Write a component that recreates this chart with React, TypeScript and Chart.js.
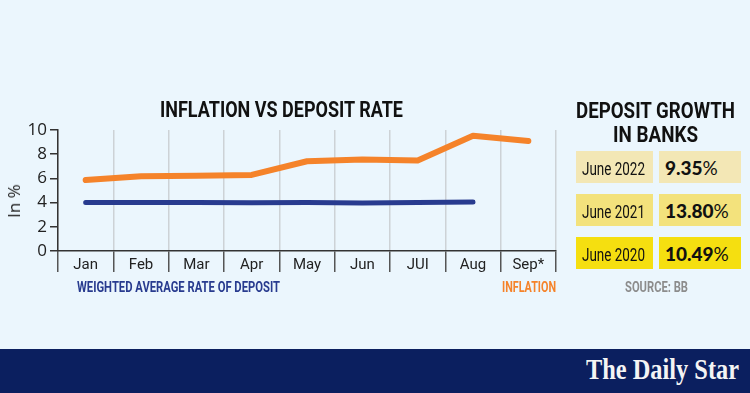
import React, { useEffect, useLayoutEffect, useRef } from "react";
import { Chart, registerables } from "chart.js";

Chart.register(...registerables);

const months = ["Jan", "Feb", "Mar", "Apr", "May", "Jun", "JUI", "Aug", "Sep*"];
const inflation = [5.86, 6.17, 6.22, 6.29, 7.42, 7.56, 7.48, 9.52, 9.1];
const depositRate = [4.01, 4.01, 4.01, 3.99, 4.0, 3.96, 4.0, 4.04];
const yTicks = [0, 2, 4, 6, 8, 10];

const growthPeriods = ["June 2022", "June 2021", "June 2020"];
const growthValues = [9.35, 13.8, 10.49];
const growthColors = ["#F3E7B5", "#F3E27C", "#F5DF10"];

const SANS = "Roboto, 'Liberation Sans', sans-serif";
const TICKFONT = "'Open Sans', Lato, 'Noto Sans', sans-serif";
const ORANGE = "#F5832A";
const BLUE = "#283B8F";

type FitProps = {
  text: string;
  left: number;
  top: number;
  width: number;
  size: number;
  weight?: number;
  color?: string;
  family?: string;
};

function FitText({ text, left, top, width, size, weight = 700, color = "#111", family = SANS }: FitProps) {
  const ref = useRef<HTMLSpanElement>(null);
  useLayoutEffect(() => {
    const el = ref.current;
    if (!el) return;
    el.style.transform = "none";
    const w = el.getBoundingClientRect().width;
    if (w > 0) el.style.transform = `scaleX(${width / w})`;
  });
  return (
    <span
      ref={ref}
      style={{
        position: "absolute",
        left,
        top,
        whiteSpace: "nowrap",
        transformOrigin: "left top",
        fontSize: size,
        lineHeight: `${size}px`,
        fontWeight: weight,
        color,
        fontFamily: family,
      }}
    >
      {text}
    </span>
  );
}

export default function App() {
  const ref = useRef<HTMLCanvasElement>(null);

  useEffect(() => {
    if (!ref.current) return;
    const chart = new Chart(ref.current, {
      type: "line",
      data: {
        labels: months,
        datasets: [
          {
            label: "Inflation",
            data: inflation,
            borderColor: ORANGE,
            borderWidth: 6,
            pointRadius: 0,
            borderCapStyle: "round",
            borderJoinStyle: "round",
            tension: 0,
          },
          {
            label: "Weighted average rate of deposit",
            data: depositRate,
            borderColor: BLUE,
            borderWidth: 5,
            pointRadius: 0,
            borderCapStyle: "round",
            borderJoinStyle: "round",
            tension: 0,
          },
        ],
      },
      options: {
        animation: false,
        responsive: false,
        maintainAspectRatio: false,
        layout: { padding: { top: 130, right: 14, left: 0, bottom: 0 } },
        plugins: { legend: { display: false }, tooltip: { enabled: false }, title: { display: false } },
        scales: {
          x: {
            type: "category",
            offset: true,
            grid: {
              offset: true,
              color: "#CDD2D6",
              lineWidth: 1.5,
              tickColor: "#555",
              tickLength: 21,
              drawTicks: true,
            },
            border: { color: "#333", width: 1.5 },
            ticks: {
              padding: -16,
              color: "#222",
              font: { family: SANS, size: 15 },
              maxRotation: 0,
              autoSkip: false,
            },
            afterFit: (s: any) => {
              s.height = 49;
            },
          },
          y: {
            min: 0,
            max: 10,
            afterBuildTicks: (s: any) => {
              s.ticks = yTicks.map((v) => ({ value: v }));
            },
            grid: { drawOnChartArea: false, tickColor: "#333", tickLength: 8, lineWidth: 1.5 },
            border: { color: "#333", width: 1.5 },
            ticks: {
              padding: 3,
              color: "#222",
              font: { family: TICKFONT, size: 17 },
            },
            afterFit: (s: any) => {
              s.width = 58;
            },
          },
        },
      },
    });
    return () => chart.destroy();
  }, []);

  const abs = (o: React.CSSProperties): React.CSSProperties => ({ position: "absolute", ...o });

  return (
    <div
      style={{
        position: "fixed",
        left: 0,
        top: 0,
        width: 750,
        height: 393,
        background: "#EBF6FD",
        overflow: "hidden",
        fontFamily: SANS,
      }}
    >
      <canvas ref={ref} width={570} height={300} style={abs({ left: 0, top: 0, width: 570, height: 300 })} />

      <FitText text="INFLATION VS DEPOSIT RATE" left={160} top={99} width={243} size={22} />

      <div
        style={abs({
          left: 14,
          top: 201,
          transform: "translate(-50%, -50%) rotate(-90deg)",
          fontSize: 17,
          fontFamily: TICKFONT,
          color: "#222",
          whiteSpace: "nowrap",
          lineHeight: "20px",
        })}
      >
        In %
      </div>

      <FitText text="WEIGHTED AVERAGE RATE OF DEPOSIT" left={77} top={281} width={203} size={14.5} color={BLUE} />
      <FitText text="INFLATION" left={502} top={281} width={54} size={14.5} color={ORANGE} />

      <FitText text="DEPOSIT GROWTH" left={576} top={99} width={159} size={22.5} />
      <FitText text="IN BANKS" left={613} top={122.5} width={85} size={22.5} />

      {growthPeriods.map((p, i) => (
        <React.Fragment key={p}>
          <div
            style={abs({
              left: 576,
              top: 151 + i * 43,
              width: 77,
              height: 32,
              background: growthColors[i],
            })}
          />
          <FitText text={p} left={582} top={151 + i * 43 + 8.5} width={63} size={18.5} weight={400} />
          <div
            style={abs({
              left: 659,
              top: 151 + i * 43,
              width: 82,
              height: 32,
              background: growthColors[i],
              display: "flex",
              alignItems: "center",
              paddingLeft: 6,
              boxSizing: "border-box",
              fontSize: 19,
              color: "#111",
              fontFamily: "Lato, 'Open Sans', sans-serif",
            })}
          >
            <span style={{ fontWeight: 900 }}>{growthValues[i].toFixed(2)}</span>
            <span style={{ fontWeight: 400 }}>%</span>
          </div>
        </React.Fragment>
      ))}

      <FitText text="SOURCE: BB" left={625} top={281} width={63} size={14.5} color="#8C8C8C" />

      <div style={abs({ left: 0, top: 349, width: 750, height: 44, background: "#0B1F5F" })} />
      <FitText
        text="The Daily Star"
        left={586}
        top={354}
        width={153}
        size={30}
        color="#F4F4F4"
        family="'Liberation Serif', 'DejaVu Serif', serif"
      />
    </div>
  );
}
